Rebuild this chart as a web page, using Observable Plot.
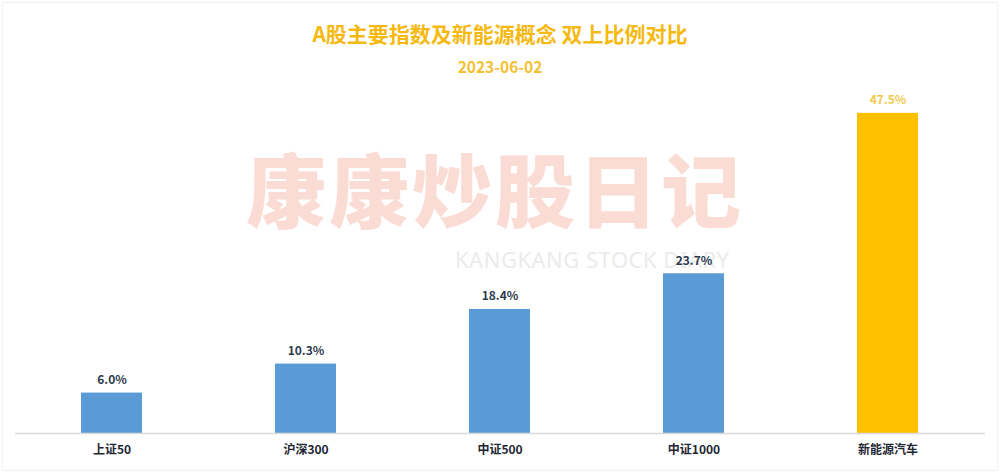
<!DOCTYPE html>
<html>
<head>
<meta charset="utf-8">
<script src="https://cdn.jsdelivr.net/npm/d3@7"></script>
<script src="https://cdn.jsdelivr.net/npm/@observablehq/plot@0.6"></script>
<style>
  html, body { margin: 0; padding: 0; background: #fff; }
  body { width: 1000px; height: 473px; overflow: hidden; position: relative;
         font-family: "Noto Sans CJK SC", "Noto Sans", sans-serif; }
  #header { position: relative; height: 80px; width: 1000px; }
  #title { position: absolute; top: 19px; left: 0; width: 1000px; text-align: center;
           font-size: 21px; font-weight: bold; color: #F5B912; line-height: 28px; }
  #subtitle { position: absolute; top: 55px; left: 0; width: 1000px; text-align: center;
              font-size: 15.5px; font-weight: bold; color: #F5C032; line-height: 22px; }
  #wm { position: absolute; left: 0; top: 0; width: 1000px; height: 473px; pointer-events: none; z-index: 0; }
  #wm .cn { position: absolute; left: 246px; top: 138px; font-size: 80px; font-weight: 900;
            color: #FADCD5; letter-spacing: 3px; line-height: 96px; white-space: nowrap; }
  #wm .en { position: absolute; left: 455px; top: 244px; font-size: 22px; font-family: "Noto Sans", sans-serif;
            color: #EBEBEB; letter-spacing: 0.5px; white-space: nowrap; }
  #chart { position: relative; z-index: 1; }
  #frame { position: absolute; left: 2px; top: 2px; width: 994px; height: 467px; border: 1px solid #f1f1f1; pointer-events: none; }
</style>
</head>
<body>
<div id="wm"><div class="cn">康康炒股日记</div><div class="en">KANGKANG STOCK DIARY</div></div>
<div id="frame"></div>
<div id="header">
  <div id="title">A股主要指数及新能源概念 双上比例对比</div>
  <div id="subtitle">2023-06-02</div>
</div>
<div id="chart"></div>
<script>
const categories = ["上证50", "沪深300", "中证500", "中证1000", "新能源汽车"];
const values = [6.0, 10.3, 18.4, 23.7, 47.5];
const highlight = [false, false, false, false, true];

const data = categories.map((c, i) => ({name: c, value: values[i], hi: highlight[i]}));

const chart = Plot.plot({
  width: 1000,
  height: 393,
  marginLeft: 15,
  marginRight: 15,
  marginTop: 16,
  marginBottom: 40,
  style: {background: "transparent", fontFamily: "'Noto Sans CJK SC', 'Noto Sans', sans-serif", overflow: "visible"},
  x: {domain: categories, paddingInner: 0.685, paddingOuter: 0.3425, label: null},
  y: {domain: [0, 50], axis: null},
  marks: [
    Plot.barY(data, {x: "name", y: "value", fill: d => d.hi ? "#FFC000" : "#5B9BD5"}),
    Plot.ruleY([0], {stroke: "#d9d9d9", strokeWidth: 1.5}),
    Plot.text(data, {
      x: "name", y: "value",
      text: d => d.value.toFixed(1) + "%",
      dy: -9, lineAnchor: "bottom",
      fontSize: 12, fontWeight: "bold",
      fill: d => d.hi ? "#F2C94C" : "#2E3A4D"
    }),
    Plot.axisX({tickSize: 0, tickPadding: 12, fontSize: 12, fontWeight: "bold", color: "#1E2633", label: null})
  ]
});
document.getElementById("chart").appendChild(chart);
</script>
</body>
</html>
